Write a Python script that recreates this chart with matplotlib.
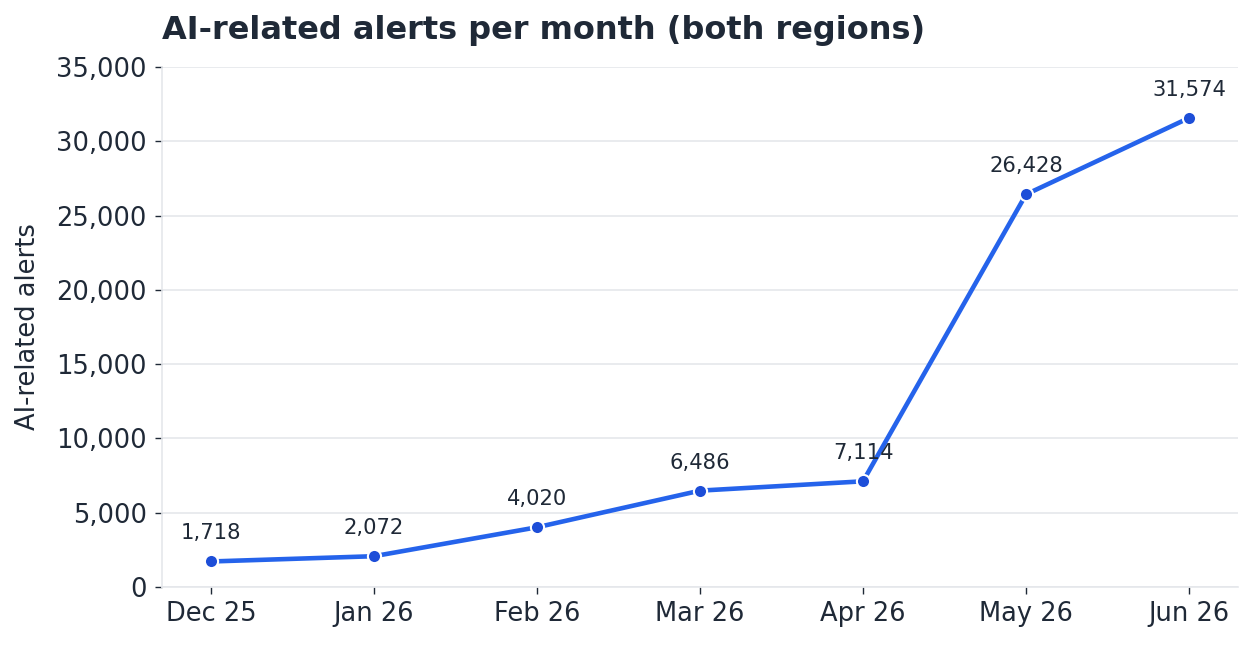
import matplotlib
matplotlib.use("Agg")
import matplotlib.pyplot as plt
from matplotlib.ticker import FuncFormatter

months = ["Dec 25", "Jan 26", "Feb 26", "Mar 26", "Apr 26", "May 26", "Jun 26"]
alerts = [1718, 2072, 4020, 6486, 7114, 26428, 31574]

TEXT = "#1f2937"
LINE = "#2563eb"
DOT = "#1d4ed8"
GRID = "#e5e7eb"

plt.rcParams["font.family"] = ["DejaVu Sans"]

fig = plt.figure(figsize=(12.54, 6.46), dpi=100)
ax = fig.add_axes([162 / 1254, 1 - 587 / 646, (1238 - 162) / 1254, (587 - 67) / 646])

x = list(range(len(months)))
ax.plot(x, alerts, color=LINE, linewidth=3.3, zorder=3)
ax.plot(x, alerts, linestyle="none", marker="o", markersize=9.5,
        markerfacecolor=DOT, markeredgecolor="white", markeredgewidth=1.5, zorder=4)

for xi, v in zip(x, alerts):
    ax.annotate(f"{v:,}", (xi, v), xytext=(0, 13), textcoords="offset points",
                ha="center", va="bottom", fontsize=15.2, color=TEXT, zorder=5)

ax.set_xlim(-0.3, 6.3)
ax.set_ylim(0, 35000)
ax.set_yticks(range(0, 35001, 5000))
ax.yaxis.set_major_formatter(FuncFormatter(lambda v, p: f"{int(v):,}"))
ax.set_xticks(x)
ax.set_xticklabels(months)

ax.grid(axis="y", color=GRID, linewidth=1.2, zorder=0)
ax.set_axisbelow(True)
for s in ["top", "right"]:
    ax.spines[s].set_visible(False)
for s in ["left", "bottom"]:
    ax.spines[s].set_color(GRID)
    ax.spines[s].set_linewidth(1.2)

ax.tick_params(axis="both", colors=TEXT, labelsize=18.5, length=5, width=1)
ax.tick_params(axis="x", pad=5)
ax.tick_params(axis="y", pad=6)
ax.set_ylabel("AI-related alerts", fontsize=18.5, color=TEXT, labelpad=11)
ax.set_title("AI-related alerts per month (both regions)", loc="left",
             fontsize=23, fontweight="bold", color=TEXT, pad=20)

fig.savefig("out.png", dpi=100, facecolor="white")
